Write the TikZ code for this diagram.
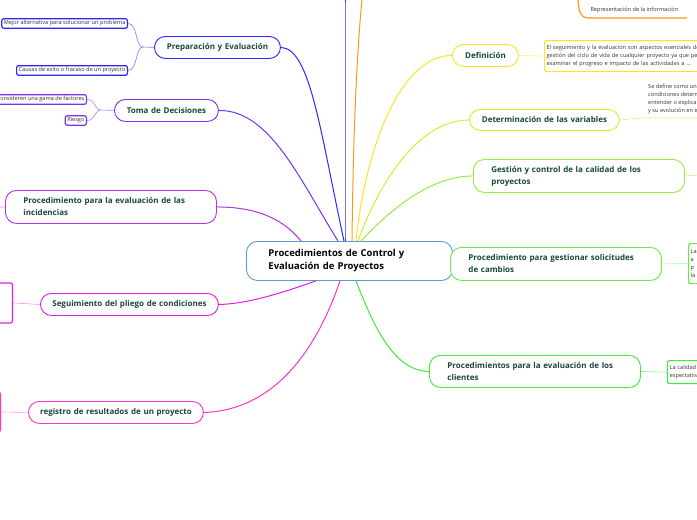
\documentclass[tikz,border=0pt]{standalone}
\usepackage{fontspec}
\setmainfont{Open Sans}
\definecolor{txt}{RGB}{22,72,58}
\definecolor{cblue}{RGB}{91,155,213}
\definecolor{c1}{RGB}{40,40,255}
\definecolor{c2}{RGB}{120,50,240}
\definecolor{c3}{RGB}{180,50,230}
\definecolor{c4}{RGB}{225,30,225}
\definecolor{c5}{RGB}{255,50,200}
\definecolor{c6}{RGB}{255,225,40}
\definecolor{c7}{RGB}{205,240,50}
\definecolor{c8}{RGB}{150,235,60}
\definecolor{c9}{RGB}{100,235,70}
\definecolor{c10}{RGB}{60,235,60}
\definecolor{corange}{RGB}{255,150,20}
\begin{document}
\begin{tikzpicture}[x=1pt,y=-1pt,
 main/.style={draw,line width=0.9pt,rounded corners=11pt,fill=white,anchor=north west,inner sep=0pt,align=left,font=\fontsize{8}{12}\selectfont\bfseries,text=txt},
 leaf/.style={draw,line width=1.2pt,rounded corners=2pt,fill=white,inner sep=2pt,align=left,font=\fontsize{5.6}{8}\selectfont,text=black!80},
 br/.style={line width=1pt},
 lk/.style={line width=0.6pt}]
\useasboundingbox (0,0) rectangle (697,520);
% top lines
\draw[br,c1] (345,241) .. controls (345,150) and (345,80) .. (345,0);
\draw[br,corange] (352,241) .. controls (353,150) and (356,60) .. (362,0);
\draw[br,corange,line width=1.2pt] (578,0) .. controls (579,12) and (580,17) .. (588,18) -- (687,18);
\node[font=\fontsize{5.6}{6}\selectfont,text=black!80,anchor=west] (rep) at (587,10) {Representación de la información};
% center
\node[main,draw=cblue,minimum width=206pt,minimum height=39pt,text width=190pt,font=\fontsize{9.5}{13}\selectfont\bfseries,text=black] (c) at (246,241) {\hspace*{14pt}Procedimientos de Control y\\\hspace*{14pt}Evaluación de Proyectos};
% left branches
\node[main,draw=c1,minimum width=126pt,minimum height=22pt,align=center,text width=126pt] (pe) at (154,36) {Preparación y Evaluación};
\node[leaf,draw=c1,anchor=east] (pe1) at (128,23.5) {Mejor alternativa para solucionar un problema};
\node[leaf,draw=c1,anchor=east] (pe2) at (128,70.5) {Causas de exito o fracaso de un proyecto};
\draw[br,c1] (c.north west)++(98,0) .. controls (320,130) and (310,48) .. (pe.east);
\draw[lk,c1!60] (pe.west) -- (143,47) .. controls (135,47) and (138,23.5) .. (pe1.east);
\draw[lk,c1!60] (143,47) .. controls (135,47) and (138,70.5) .. (pe2.east);

\node[main,draw=c2,minimum width=104pt,minimum height=22pt,align=center,text width=104pt] (td) at (114,99) {Toma de Decisiones};
\node[leaf,draw=c2,anchor=east] (td1) at (87,99.5) {Que se consideren una gama de factores};
\node[leaf,draw=c2,anchor=east] (td2) at (87,120.5) {Riesgo};
\draw[br,c2] (c.north west)++(92,0) .. controls (300,180) and (270,110) .. (td.east);
\draw[lk,c2!60] (td.west) -- (101,110) .. controls (94,110) and (96,99.5) .. (td1.east);
\draw[lk,c2!60] (101,110) .. controls (94,110) and (96,120.5) .. (td2.east);

\node[main,draw=c3,minimum width=211pt,minimum height=33pt,text width=211pt] (pi) at (5,190) {\hspace*{18pt}Procedimiento para la evaluación de las\\\hspace*{18pt}incidencias};
\draw[br,c3] (c.north west)++(55,0) .. controls (280,215) and (250,207) .. (pi.east);
\draw[lk,c3!60] (pi.west) -- (0,207);

\node[main,draw=c4,minimum width=178pt,minimum height=22pt,align=center,text width=178pt] (sp) at (40,293) {Seguimiento del pliego de condiciones};
\node[leaf,draw=c4,anchor=east,minimum width=30pt,minimum height=40pt] (sp1) at (13,303) {};
\draw[br,c4] (c.south west)++(70,0) .. controls (290,290) and (250,304) .. (sp.east);
\draw[lk,c4!50] (sp.west) -- (sp1.east);

\node[main,draw=c5,minimum width=175pt,minimum height=22pt,align=center,text width=175pt] (rr) at (28,401) {registro de resultados de un proyecto};
\node[leaf,draw=c5,anchor=east,minimum width=30pt,minimum height=40pt] (rr1) at (1,412) {};
\draw[br,c5] (c.south west)++(94,0) .. controls (320,340) and (280,410) .. (rr.east);
\draw[lk,c5!50] (rr.west) -- (rr1.east);

% right branches
\node[main,draw=c6,minimum width=66pt,minimum height=22pt,align=center,text width=66pt] (de) at (452,44) {Definición};
\node[leaf,draw=c6,anchor=north west,text width=190pt,minimum height=31pt] (de1) at (544,40) {El seguimiento y la evaluación son aspectos esenciales de la\\gestión del ciclo de vida de cualquier proyecto ya que permiten\\examinar el progreso e impacto de las actividades a ...};
\draw[br,c6] (c.north west)++(110,0) .. controls (365,150) and (400,55) .. (de.west);
\draw[lk,c6!60] (de.east) -- (de1.west);

\node[main,draw=c7,minimum width=150pt,minimum height=21pt,align=center,text width=150pt] (dv) at (469,109) {Determinación de las variables};
\node[font=\fontsize{5.6}{8}\selectfont,text=black!80,anchor=north west,align=left,inner sep=0pt] (dv1) at (648,84) {Se define como una serie de\\condiciones determinadas para\\entender o explicar un fenómeno\\y su evolución en el tiempo};
\coordinate (dvu) at (645,118);
\draw[lk,c7!70] (dv.east) .. controls (632,119) and (635,118) .. (dvu) -- (697,118);
\draw[br,c7] (c.north west)++(112,0) .. controls (380,180) and (420,120) .. (dv.west);

\node[main,draw=c8,minimum width=211pt,minimum height=33pt,text width=211pt] (gc) at (473,159) {\hspace*{18pt}Gestión y control de la calidad de los\\\hspace*{18pt}proyectos};
\draw[br,c8] (c.north west)++(115,0) .. controls (390,210) and (430,176) .. (gc.west);
\draw[lk,c8!60] (gc.east) -- (697,175);

\node[main,draw=c9,minimum width=211pt,minimum height=33pt,text width=211pt] (ps) at (450,247) {\hspace*{18pt}Procedimiento para gestionar solicitudes\\\hspace*{18pt}de cambios};
\node[leaf,draw=c9,anchor=north west,text width=60pt,minimum height=40pt] (ps1) at (688,243) {La\\a\\p\\la};
\draw[lk,c9!60] (ps.east) -- (ps1.west);

\node[main,draw=c10,minimum width=211pt,minimum height=32pt,text width=211pt] (pc) at (429,355) {\hspace*{18pt}Procedimientos para la evaluación de los\\\hspace*{18pt}clientes};
\node[leaf,draw=c10,anchor=north west,text width=60pt,minimum height=23pt] (pc1) at (667,360) {La calidad\\expectativas};
\draw[lk,c10!60] (pc.east) -- (pc1.west);
\draw[br,c10] (c.south west)++(110,0) .. controls (375,330) and (395,371) .. (pc.west);
\end{tikzpicture}
\end{document}
